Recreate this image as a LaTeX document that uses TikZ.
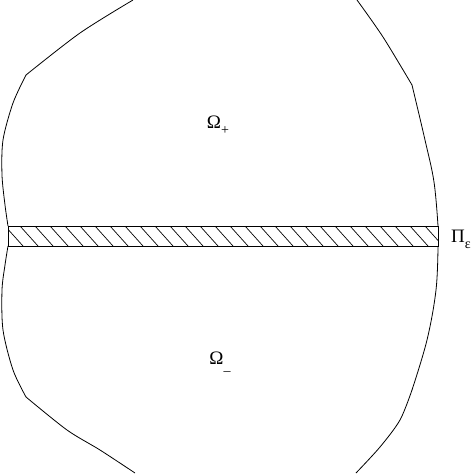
\documentclass[tikz,border=0pt]{standalone}
\usepackage{fontspec}
\setmainfont{Liberation Serif}
\newcommand{\lowsub}[1]{\raisebox{-0.3em}{\fontsize{14}{14}\selectfont #1}}
\begin{document}
\begin{tikzpicture}[x=1pt,y=-1pt,
  bnd/.style={line width=0.8pt,black},
  lab/.style={font=\fontsize{19}{22}\selectfont,inner sep=0pt}]
\useasboundingbox (0,0) rectangle (474,474);
% boundary curve
\draw[bnd] plot[smooth,tension=0.5] coordinates {(133,0) (80,33) (26,75)};
\draw[bnd] plot[smooth,tension=0.5] coordinates {(26,75) (13,103) (3,140) (2,175) (5,205) (8,226)};
\draw[bnd] plot[smooth,tension=0.5] coordinates {(8,246) (5,265) (2,290) (3,330) (13,370) (26,397)};
\draw[bnd] plot[smooth,tension=0.5] coordinates {(26,397) (67,430) (100,450) (135,473)};
\draw[bnd] plot[smooth,tension=0.5] coordinates {(357,0) (383,37) (412,85)};
\draw[bnd] plot[smooth,tension=0.6] coordinates {(412,85) (425,140) (434,182) (438,226)};
\draw[bnd] plot[smooth,tension=0.6] coordinates {(438,246) (436,290) (427,340) (412,390)};
\draw[bnd] plot[smooth,tension=0.5] coordinates {(412,390) (400,420) (380,447) (356,473)};
% strip
\begin{scope}
\clip (8,226) rectangle (438,246);
\foreach \x in {-10,5,...,440} {
  \draw[line width=0.7pt] (\x,226) -- (\x+18,246);
}
\end{scope}
\node[draw,line width=0.8pt,minimum width=430pt,minimum height=20pt,inner sep=0pt,anchor=north west] (strip) at (8,226) {};
% labels
\node[lab] (op) at (218,125) {Ω\lowsub{+}};
\node[lab] (om) at (220,362) {Ω\lowsub{\_}};
\node[lab] (pe) at (461,239) {Π\lowsub{ε}};
\end{tikzpicture}
\end{document}
